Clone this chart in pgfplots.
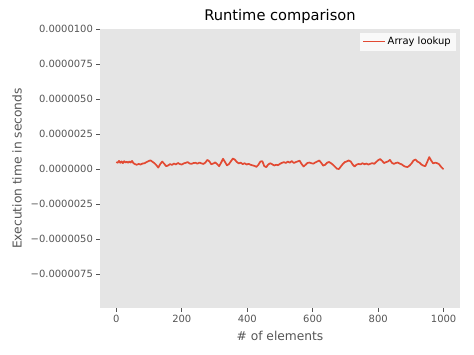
\documentclass[border=0pt]{standalone}
\usepackage{fontspec}
\setmainfont{DejaVu Sans}
\usepackage{pgfplots}
\pgfplotsset{compat=1.18}
\usepackage{pgfplotstable}
\definecolor{bgcol}{RGB}{229,229,229}
\definecolor{ggred}{RGB}{226,74,51}
\definecolor{txtgray}{RGB}{85,85,85}
\definecolor{legfill}{RGB}{249,249,249}

\pgfplotstableread{
x y
0 5.0e-7
4 4.4e-7
8 5.8e-7
12 4.4e-7
16 5.4e-7
20 4.2e-7
24 5.6e-7
28 4.6e-7
32 5.2e-7
36 4.4e-7
40 5.4e-7
44 4.6e-7
48 5.8e-7
52 4.2e-7
56 3.6e-7
62 3.0e-7
68 3.6e-7
74 3.2e-7
80 3.9e-7
86 4.1e-7
92 4.9e-7
98 5.6e-7
104 6.2e-7
110 5.2e-7
116 4.2e-7
122 2.8e-7
128 1.0e-7
134 3.5e-7
140 5.3e-7
146 3.8e-7
152 2.0e-7
158 2.5e-7
164 3.5e-7
170 2.9e-7
176 3.9e-7
182 3.2e-7
188 4.3e-7
194 3.5e-7
200 3.2e-7
206 4.0e-7
212 4.4e-7
218 4.9e-7
224 3.9e-7
230 3.7e-7
236 4.3e-7
242 4.4e-7
248 3.8e-7
254 4.6e-7
260 4.0e-7
266 3.6e-7
272 4.6e-7
278 6.5e-7
284 5.5e-7
290 3.4e-7
296 3.9e-7
302 4.7e-7
308 3.5e-7
314 2.0e-7
320 4.5e-7
326 7.3e-7
332 5.0e-7
338 2.6e-7
344 3.5e-7
350 5.5e-7
356 7.5e-7
362 6.7e-7
368 5.0e-7
374 4.0e-7
380 4.5e-7
386 3.5e-7
392 4.1e-7
398 3.2e-7
404 3.7e-7
410 3.0e-7
416 2.6e-7
422 2.2e-7
428 1.5e-7
434 3.0e-7
440 5.3e-7
446 5.6e-7
452 2.0e-7
458 1.3e-7
464 3.2e-7
470 4.1e-7
476 3.4e-7
482 2.5e-7
488 3.0e-7
494 2.7e-7
500 3.7e-7
506 4.4e-7
512 4.9e-7
518 4.3e-7
524 5.3e-7
530 4.5e-7
536 5.7e-7
542 4.3e-7
548 4.9e-7
554 5.4e-7
560 5.9e-7
566 3.6e-7
572 1.8e-7
578 3.0e-7
584 4.3e-7
590 4.6e-7
596 4.1e-7
602 3.8e-7
608 4.7e-7
614 5.4e-7
620 6.1e-7
626 4.4e-7
632 2.4e-7
638 3.0e-7
644 4.5e-7
650 5.0e-7
656 4.1e-7
662 3.0e-7
668 1.6e-7
674 0.2e-7
680 0.0
686 1.8e-7
692 3.6e-7
698 4.9e-7
704 5.4e-7
710 6.1e-7
716 5.4e-7
722 3.2e-7
728 1.8e-7
734 3.1e-7
740 3.6e-7
746 3.3e-7
752 4.1e-7
758 3.4e-7
764 3.9e-7
770 3.2e-7
776 3.7e-7
782 4.2e-7
788 3.7e-7
794 5.0e-7
800 6.3e-7
806 7.1e-7
812 5.8e-7
818 4.2e-7
824 4.9e-7
830 5.4e-7
836 6.5e-7
842 4.4e-7
848 3.6e-7
854 4.3e-7
860 4.6e-7
866 3.8e-7
872 3.3e-7
878 2.2e-7
884 1.6e-7
890 1.4e-7
896 2.5e-7
902 4.0e-7
908 6.1e-7
914 6.8e-7
920 5.3e-7
926 4.6e-7
932 3.2e-7
938 2.4e-7
944 2.0e-7
950 5.1e-7
956 8.5e-7
962 6.0e-7
968 4.0e-7
974 4.5e-7
980 4.2e-7
986 3.4e-7
992 1.6e-7
998 0.2e-7
1000 0.0
}\runtimedata

\begin{document}
\begin{tikzpicture}
\begin{axis}[
  scale only axis,
  width=360bp, height=279bp,
  xmin=-50, xmax=1050,
  ymin=-9.93e-6, ymax=1.0e-5,
  axis background/.style={fill=bgcol},
  axis line style={draw=none},
  tick align=outside,
  xtick pos=lower, ytick pos=left,
  major tick length=3.6bp,
  tick style={txtgray, line width=0.8bp},
  xtick={0,200,400,600,800,1000},
  xticklabels={0,200,400,600,800,1000},
  ytick={-7.5e-6,-5e-6,-2.5e-6,0,2.5e-6,5e-6,7.5e-6,1e-5},
  yticklabels={−0.0000075,−0.0000050,−0.0000025,0.0000000,0.0000025,0.0000050,0.0000075,0.0000100},
  ticklabel style={font=\fontsize{10}{12}\selectfont, text=txtgray},
  scaled y ticks=false,
  title={Runtime comparison},
  every axis title/.style={at={(rel axis cs:0.5,1)}, anchor=base, yshift=8bp, font=\fontsize{14.7}{17}\selectfont, text=black},
  xlabel={\# of elements},
  ylabel={Execution time in seconds},
  every axis x label/.style={at={(rel axis cs:0.5,0)}, anchor=center, yshift=-28bp, font=\fontsize{12.3}{14}\selectfont, text=txtgray},
  every axis y label/.style={at={(rel axis cs:0,0.5)}, anchor=center, xshift=-83bp, rotate=90, font=\fontsize{12.3}{14}\selectfont, text=txtgray},
  legend style={at={(rel axis cs:1,1)}, anchor=north east, xshift=-5bp, yshift=-4bp, fill=legfill, draw=legfill, font=\fontsize{10}{12}\selectfont, inner sep=2bp},
  legend cell align=left,
]
\addplot[ggred, line width=1.7bp, line join=round, forget plot] table[x=x, y=y] {\runtimedata};
\addlegendimage{ggred, line width=1.5bp, legend image code/.code={\draw[ggred, line width=1.5bp] (0bp,0bp) -- (22bp,0bp);}}
\addlegendentry{Array lookup}
\end{axis}
\path ([shift={(-100bp,-47bp)}]current axis.south west) rectangle ([shift={(14bp,29bp)}]current axis.north east);
\end{tikzpicture}
\end{document}
